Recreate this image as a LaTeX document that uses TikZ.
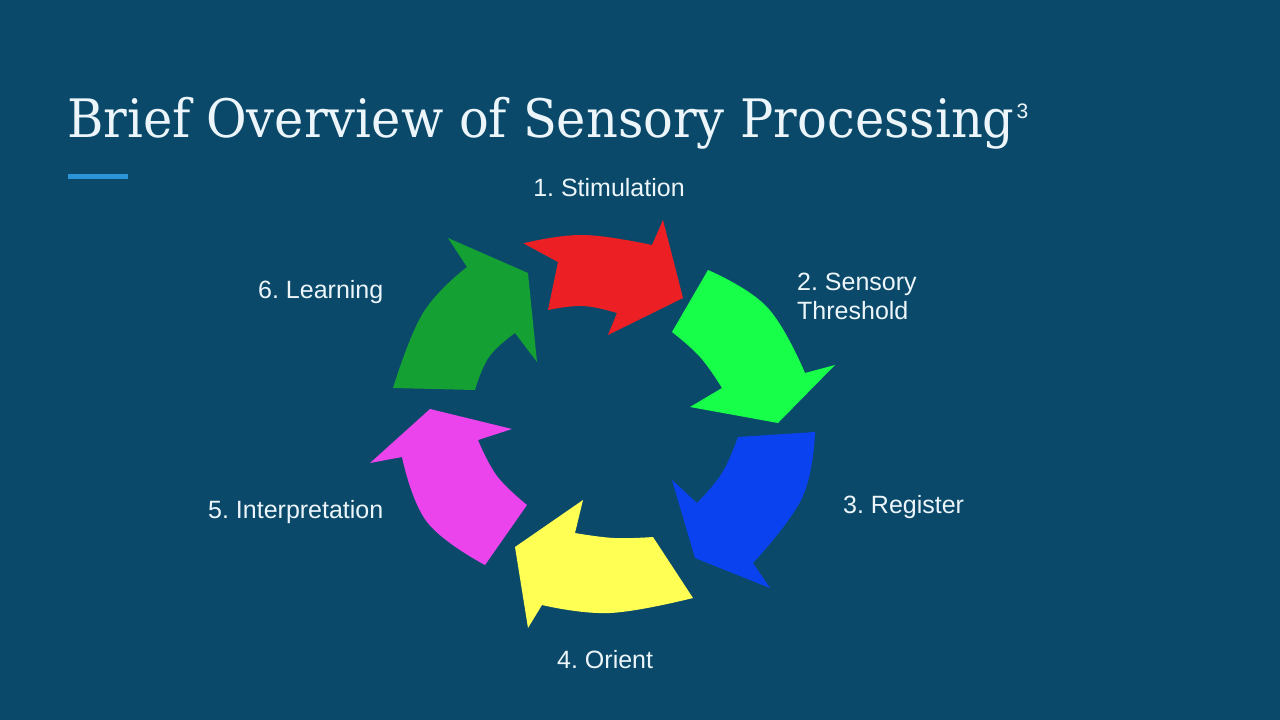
\documentclass[tikz,border=0pt]{standalone}
\usepackage{fontspec}
\setmainfont{Liberation Sans}
\newfontfamily\titlefont{DejaVu Serif}
\definecolor{bg}{RGB}{11,73,106}
\definecolor{accent}{RGB}{42,150,216}
\definecolor{txt}{RGB}{236,246,250}
\definecolor{cred}{RGB}{236,32,36}
\definecolor{cgreenb}{RGB}{24,255,74}
\definecolor{cblue}{RGB}{10,66,240}
\definecolor{cyellow}{RGB}{255,255,84}
\definecolor{cmagenta}{RGB}{236,68,236}
\definecolor{cgreend}{RGB}{20,160,50}
\tikzset{
  lbl/.style={text=txt, font=\frenchspacing\fontsize{25}{30}\selectfont, inner sep=0pt, align=left},
  sm/.style={smooth, tension=0.7}
}
\begin{document}
\begin{tikzpicture}[x=1pt,y=-1pt]
\fill[bg] (0,0) rectangle (1280,720);
\useasboundingbox (0,0) rectangle (1280,720);
% title
\node[anchor=base west, inner sep=0pt, text=txt] (title) at (67,137)
  {\scalebox{0.934}[1]{\titlefont\fontsize{53}{60}\selectfont Brief Overview of Sensory Processing}\kern2pt\raisebox{19pt}{\fontsize{21}{21}\selectfont 3}};
\fill[accent] (68,173.5) rectangle (128,179);
% 1 red
\fill[cred] (652,245) -- plot[sm] coordinates {(652,245) (583,235) (523.3,243.3)} -- (558,262) -- (548,310)
  -- plot[sm] coordinates {(548,310) (583,306) (617,313)} -- (608,335) -- (683,298) -- (663,220) -- cycle;
% 2 green
\fill[cgreenb] (708,270) -- plot[sm] coordinates {(708,270) (767,307) (805,373)} -- (835,365) -- (778,423)
  -- (690,407) -- (722,388) -- plot[sm] coordinates {(722,388) (700,357) (672,332)} -- cycle;
% 3 blue
\fill[cblue] (815,432) -- plot[sm] coordinates {(815,432) (802,498) (753,563)} -- (770,588) -- (695,558)
  -- (672,480) -- (697,503) -- plot[sm] coordinates {(697,503) (722,473) (738,437)} -- cycle;
% 4 yellow
\fill[cyellow] (693,598) -- plot[sm] coordinates {(693,598) (610,613) (542,605)} -- (528,628) -- (515,547)
  -- (583,500) -- (575,533) -- plot[sm] coordinates {(575,533) (614,538) (653,537)} -- cycle;
% 5 magenta
\fill[cmagenta] (485,565) -- plot[sm] coordinates {(485,565) (427,522) (402,457)} -- (370,463) -- (430,409)
  -- (512,429) -- (478,440) -- plot[sm] coordinates {(478,440) (497,476) (527,505)} -- cycle;
% 6 dark green
\fill[cgreend] (393,388) -- plot[sm] coordinates {(393,388) (423,313) (467,267)} -- (448,238) -- (528,273)
  -- (537,362) -- (515,333) -- plot[sm] coordinates {(515,333) (489,357) (475,390)} -- cycle;
% labels
\node[lbl, anchor=base] (l1) at (609,196) {1. Stimulation};
\node[lbl, anchor=base west] (l2a) at (797,290) {2. Sensory};
\node[lbl, anchor=base west] (l2b) at (797,319) {Threshold};
\node[lbl, anchor=base west] (l3) at (843,513) {3. Register};
\node[lbl, anchor=base west] (l4) at (557,668) {4. Orient};
\node[lbl, anchor=base west] (l5) at (208,518) {5. Interpretation};
\node[lbl, anchor=base west] (l6) at (258,298) {6. Learning};
\end{tikzpicture}
\end{document}
